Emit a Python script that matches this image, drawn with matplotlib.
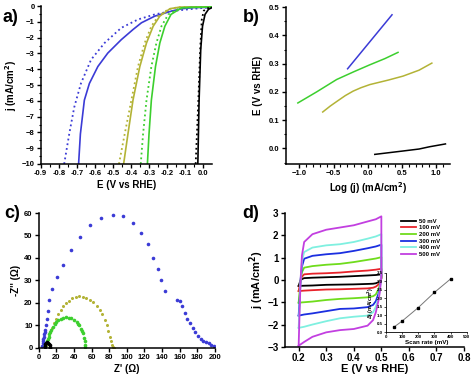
import numpy as np
import matplotlib
matplotlib.use('Agg')
import matplotlib.pyplot as plt

plt.rcParams['font.family'] = ['Liberation Sans', 'DejaVu Sans']
plt.rcParams['font.weight'] = 'bold'
plt.rcParams['axes.labelweight'] = 'bold'

BLUE = '#3b3bd6'
OLIVE = '#b3b336'
GREEN = '#3ccf2e'

# ---- a) polarisation curves (E in V vs RHE, j in mA/cm2)
a_blue_dot_E = [-0.770, -0.742, -0.714, -0.677, -0.621, -0.546, -0.453, -0.36, -0.267, -0.174, -0.08, 0.0, 0.05]
a_blue_dot_j = [-10, -8.1, -6.4, -4.9, -3.4, -2.34, -1.38, -0.85, -0.53, -0.32, -0.21, -0.12, -0.08]
a_blue_E = [-0.690, -0.680, -0.658, -0.630, -0.583, -0.528, -0.453, -0.388, -0.341, -0.267, -0.174, -0.118, -0.05, 0.05]
a_blue_j = [-10, -8.1, -5.96, -4.9, -3.83, -2.98, -2.13, -1.49, -1.06, -0.64, -0.32, -0.17, -0.1, -0.08]
a_olive_dot_E = [-0.466, -0.434, -0.397, -0.36, -0.323, -0.286, -0.248, -0.192, -0.14, 0.05]
a_olive_dot_j = [-10, -8.1, -5.96, -3.83, -2.34, -1.28, -0.64, -0.21, -0.08, -0.03]
a_olive_E = [-0.44, -0.416, -0.388, -0.35, -0.313, -0.276, -0.239, -0.183, -0.13, 0.05]
a_olive_j = [-10, -8.1, -5.96, -3.83, -2.34, -1.28, -0.64, -0.17, -0.07, -0.03]
a_green_dot_E = [-0.345, -0.332, -0.313, -0.286, -0.258, -0.23, -0.192, -0.136, -0.08, 0.05]
a_green_dot_j = [-10, -8.1, -5.96, -3.83, -2.34, -1.28, -0.53, -0.17, -0.1, -0.06]
a_green_E = [-0.308, -0.299, -0.286, -0.263, -0.239, -0.211, -0.177, -0.118, -0.06, 0.05]
a_green_j = [-10, -8.1, -5.96, -3.83, -2.34, -1.28, -0.53, -0.11, -0.08, -0.06]
a_black_E = [-0.028, -0.021, -0.012, -0.002, 0.012, 0.031, 0.05]
a_black_j = [-10, -5.96, -2.77, -1.28, -0.53, -0.21, -0.1]
a_black_dot_E = [-0.04, -0.025, -0.015, -0.006, 0.005, 0.02, 0.05]
a_black_dot_j = [-10, -5.96, -2.77, -0.85, -0.3, -0.15, -0.1]

# ---- b) Tafel plots
b_blue_x = [-0.296, 0.354]
b_blue_y = [0.282, 0.473]
b_green_x = [-1.024, -0.75, -0.456, -0.2, 0.029, 0.25, 0.442]
b_green_y = [0.161, 0.2, 0.244, 0.272, 0.296, 0.318, 0.34]
b_olive_x = [-0.66, -0.55, -0.45, -0.33, -0.214, -0.1, 0.029, 0.3, 0.515, 0.75, 0.937]
b_olive_y = [0.129, 0.15, 0.167, 0.187, 0.203, 0.215, 0.226, 0.242, 0.256, 0.277, 0.302]
b_black_x = [0.102, 0.515, 0.75, 0.903, 1.136]
b_black_y = [-0.021, -0.009, -0.002, 0.006, 0.016]

# ---- c) Nyquist plots
c_blue_re = [4, 4.5, 5, 5, 5.5, 6, 6.5, 7, 8, 9, 10, 12, 15, 21, 28, 37, 47, 58, 71, 84, 96, 107,
             116, 124, 130, 135, 139, 143, 157, 161, 163, 166, 169, 172, 175, 178, 181, 184, 187,
             190, 193, 196, 199]
c_blue_im = [1, 2, 3, 4, 5, 6, 7, 8, 10, 13, 16.5, 21.5, 26, 31.5, 37, 43.5, 49.5, 54.5, 58, 59,
             58.5, 55.5, 51, 46, 40, 35, 30, 25.5, 21.5, 21, 18.5, 15.5, 13, 11, 9, 7, 5.5, 4,
             3, 2.5, 2, 1.5, 1]
c_olive_re = [8, 9, 10, 11, 13, 15, 17, 19, 22, 25, 28, 31, 34, 38, 42, 46, 50, 54, 58, 62, 66,
              69, 72, 75, 77, 79, 81, 82, 83, 84, 85]
c_olive_im = [1.5, 3, 4, 5, 7, 9, 11, 13, 15, 17, 18.5, 20, 21, 22, 22.8, 23, 22.8, 22.3, 21.5,
              20.3, 18.7, 17, 15, 12.5, 10, 7.5, 5, 3, 1.5, 0.5, 0]
c_green_re = [7, 8, 9, 10, 11, 12, 13, 14, 16, 18, 20, 22, 25, 28, 31, 34, 37, 40, 43, 45, 46,
              48, 49, 50, 51, 52, 52.5, 53]
c_green_im = [1, 2, 3, 4, 5, 6, 7, 8, 9.5, 10.5, 11.5, 12.3, 13, 13.5, 13.6, 13.5, 13.2, 12.5,
              11.5, 10.8, 10, 8.5, 7.5, 6.5, 4.5, 3, 1.5, 0.3]
c_black_re = [6.5, 7, 7.5, 8.5, 9.5, 10.5, 11.5, 12.3, 12.8, 13]
c_black_im = [0.3, 1, 1.7, 2.3, 2.5, 2.4, 1.9, 1.2, 0.5, 0]

# ---- d) cyclic voltammograms; forward (0.2 -> 0.5) and reverse (0.5 -> 0.2)
scan_labels = ['50 mV', '100 mV', '200 mV', '300 mV', '400 mV', '500 mV']
scan_colors = ['#000000', '#e8232b', '#6fdc1c', '#1b2fe0', '#7ff0e0', '#c23fe0']
E_fwd = [0.20, 0.203, 0.207, 0.212, 0.22, 0.25, 0.30, 0.35, 0.40, 0.45, 0.48, 0.50]
E_rev = [0.50, 0.50, 0.495, 0.49, 0.48, 0.47, 0.45, 0.40, 0.35, 0.30, 0.25, 0.22, 0.20]
j_fwd = [
    [-0.27, -0.15, -0.02, 0.04, 0.08, 0.1, 0.12, 0.14, 0.17, 0.2, 0.22, 0.25],
    [-0.5, -0.3, -0.05, 0.15, 0.25, 0.28, 0.3, 0.33, 0.38, 0.42, 0.46, 0.5],
    [-1.02, -0.6, 0.0, 0.35, 0.55, 0.62, 0.68, 0.72, 0.8, 0.9, 0.96, 1.02],
    [-1.6, -1.0, 0.0, 0.6, 0.95, 1.08, 1.15, 1.2, 1.3, 1.42, 1.5, 1.58],
    [-2.15, -1.3, 0.0, 0.85, 1.25, 1.45, 1.55, 1.6, 1.7, 1.85, 1.95, 2.05],
    [-2.95, -1.6, 0.0, 1.1, 1.7, 2.05, 2.25, 2.35, 2.45, 2.62, 2.72, 2.85],
]
j_rev = [
    [0.25, 0.05, -0.05, -0.1, -0.15, -0.17, -0.18, -0.2, -0.21, -0.22, -0.25, -0.26, -0.27],
    [0.5, 0.1, -0.1, -0.2, -0.3, -0.35, -0.38, -0.4, -0.42, -0.43, -0.46, -0.48, -0.5],
    [1.02, 0.15, -0.2, -0.4, -0.65, -0.73, -0.78, -0.82, -0.85, -0.9, -0.97, -1.0, -1.02],
    [1.58, 0.2, -0.3, -0.6, -0.95, -1.12, -1.22, -1.28, -1.3, -1.4, -1.5, -1.55, -1.6],
    [2.05, 0.2, -0.4, -0.8, -1.2, -1.45, -1.6, -1.65, -1.72, -1.85, -2.0, -2.1, -2.15],
    [2.85, 0.2, -0.5, -0.9, -1.45, -1.8, -2.05, -2.2, -2.25, -2.35, -2.55, -2.78, -2.95],
]
inset_rate = [50, 100, 200, 300, 400]
inset_dj = [0.3, 0.65, 1.45, 2.35, 3.15]


def style_axes(ax, fs=5.5):
    for side in ['top', 'right']:
        ax.spines[side].set_visible(False)
    for side in ['left', 'bottom']:
        ax.spines[side].set_linewidth(1.1)
    ax.tick_params(which='major', length=3, width=1, labelsize=fs, pad=1.5)
    ax.tick_params(which='minor', length=1.8, width=0.8)
    for lab in ax.get_xticklabels() + ax.get_yticklabels():
        lab.set_fontweight('bold')


fig = plt.figure(figsize=(4.74, 3.77), dpi=100)

# a)
ax = fig.add_axes([0.086, 0.565, 0.361, 0.419])
ax.plot(a_blue_dot_E, a_blue_dot_j, ':', color=BLUE, lw=1.3)
ax.plot(a_blue_E, a_blue_j, '-', color=BLUE, lw=1.2)
ax.plot(a_olive_dot_E, a_olive_dot_j, ':', color=OLIVE, lw=1.3)
ax.plot(a_olive_E, a_olive_j, '-', color=OLIVE, lw=1.2)
ax.plot(a_green_dot_E, a_green_dot_j, ':', color=GREEN, lw=1.3)
ax.plot(a_green_E, a_green_j, '-', color=GREEN, lw=1.2)
ax.plot(a_black_dot_E, a_black_dot_j, ':', color='black', lw=1.3)
ax.plot(a_black_E, a_black_j, '-', color='black', lw=1.2)
ax.set_xlim(-0.9, 0.05)
ax.set_ylim(-10, 0)
ax.set_xticks(np.arange(-0.9, 0.01, 0.1))
ax.set_xticklabels(['-0.9', '-0.8', '-0.7', '-0.6', '-0.5', '-0.4', '-0.3', '-0.2', '-0.1', '0.0'])
ax.set_yticks(range(-10, 1))
ax.set_xticks(np.arange(-0.85, 0.05, 0.1), minor=True)
ax.set_yticks(np.arange(-9.5, 0, 1), minor=True)
style_axes(ax)
ax.set_xlabel('E (V vs RHE)', fontsize=7, labelpad=2)
ax.set_ylabel('j (mA/cm$^\\mathbf{2}$)', fontsize=7, labelpad=2)

# b)
ax = fig.add_axes([0.603, 0.565, 0.346, 0.416])
ax.plot(b_blue_x, b_blue_y, color=BLUE, lw=1.1)
ax.plot(b_green_x, b_green_y, color=GREEN, lw=1.1)
ax.plot(b_olive_x, b_olive_y, color=OLIVE, lw=1.1)
ax.plot(b_black_x, b_black_y, color='black', lw=1.1)
ax.set_xlim(-1.2, 1.2)
ax.set_ylim(-0.055, 0.5)
ax.set_xticks([-1.0, -0.5, 0.0, 0.5, 1.0])
ax.set_yticks([0.0, 0.1, 0.2, 0.3, 0.4, 0.5])
ax.set_xticks(np.arange(-1.0, 1.2, 0.1), minor=True)
ax.set_yticks(np.arange(-0.05, 0.5, 0.05), minor=True)
style_axes(ax)
ax.set_xlabel('Log (j) (mA/cm$^\\mathbf{2}$)', fontsize=7, labelpad=2)
ax.set_ylabel('E (V vs RHE)', fontsize=7, labelpad=4)

# c)
ax = fig.add_axes([0.082, 0.077, 0.371, 0.358])
ax.plot(c_blue_re, c_blue_im, 'o', color=BLUE, ms=2.6, mec='none')
ax.plot(c_olive_re, c_olive_im, 'o', color=OLIVE, ms=2.2, mec='none')
ax.plot(c_green_re, c_green_im, 'o', color=GREEN, ms=2.6, mec='none')
ax.plot(c_black_re, c_black_im, 'o', color='black', ms=2.6, mec='none')
ax.set_xlim(0, 200)
ax.set_ylim(0, 60)
ax.set_xticks(range(0, 201, 20))
ax.set_yticks(range(0, 61, 10))
style_axes(ax)
ax.set_xlabel("Z' (\u03a9)", fontsize=7, labelpad=2)
ax.set_ylabel("-Z'' (\u03a9)", fontsize=7, labelpad=2)

# d)
ax = fig.add_axes([0.601, 0.080, 0.378, 0.355])
for k in range(len(scan_labels)):
    E_loop = list(E_fwd) + list(E_rev)
    j_loop = list(j_fwd[k]) + list(j_rev[k])
    ax.plot(E_loop, j_loop, color=scan_colors[k], lw=1.3, label=scan_labels[k])
ax.set_xlim(0.15, 0.8)
ax.set_ylim(-3, 3)
ax.set_xticks([0.2, 0.3, 0.4, 0.5, 0.6, 0.7, 0.8])
ax.set_yticks(range(-3, 4))
style_axes(ax, fs=7)
ax.set_xlabel('E (V vs RHE)', fontsize=8, labelpad=1)
ax.set_ylabel('j (mA/cm$^\\mathbf{2}$)', fontsize=8, labelpad=1)
leg = ax.legend(loc='upper left', bbox_to_anchor=(0.63, 0.985), fontsize=4.3, frameon=False,
                handlelength=2.4, handletextpad=0.6, labelspacing=0.25, borderaxespad=0.2)
for t in leg.get_texts():
    t.set_fontweight('bold')

ins = fig.add_axes([0.814, 0.119, 0.171, 0.157])
ins.plot(inset_rate, inset_dj, '-s', color='#777777', lw=0.7, ms=1.6, mfc='black', mec='black')
ins.set_xlim(0, 500)
ins.set_ylim(0, 3.5)
ins.set_xticks(range(0, 501, 100))
ins.set_yticks(np.arange(0, 3.51, 0.5))
for side in ['top', 'right']:
    ins.spines[side].set_visible(False)
ins.spines['left'].set_linewidth(0.6)
ins.spines['bottom'].set_linewidth(0.6)
ins.tick_params(length=1.5, width=0.5, labelsize=3.2, pad=0.8)
for lab in ins.get_xticklabels() + ins.get_yticklabels():
    lab.set_fontweight('bold')
ins.set_xlabel('Scan rate (mV)', fontsize=4.5, labelpad=0.5)
ins.set_ylabel('\u0394j (mA/cm$^\\mathbf{2}$)', fontsize=3.8, labelpad=0.5)

for lbl, x, y in [('a)', 0.005, 0.975), ('b)', 0.512, 0.975), ('c)', 0.008, 0.455), ('d)', 0.512, 0.455)]:
    fig.text(x, y, lbl, fontsize=13, fontweight='bold', va='top')

fig.savefig('out.png', dpi=100)
